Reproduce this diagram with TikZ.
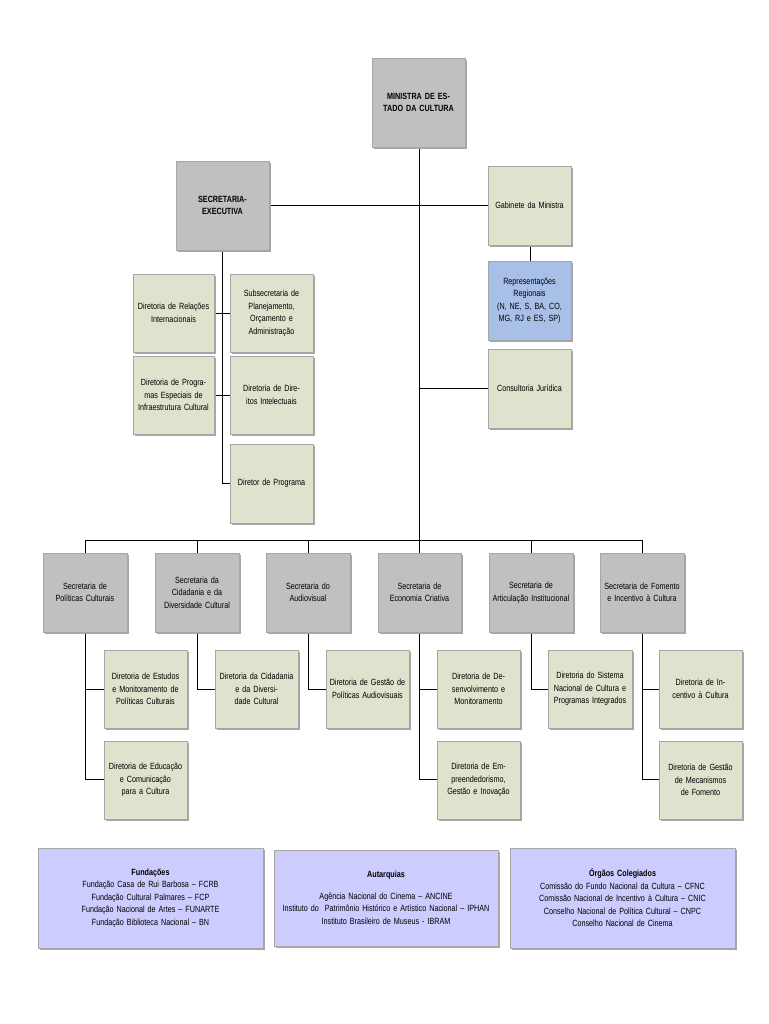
\documentclass[tikz,border=0pt]{standalone}
\usepackage{fontspec}
\setmainfont{Liberation Sans}[FakeStretch=0.8]
\usetikzlibrary{shadows}
\definecolor{gr}{HTML}{C0C0C0}
\definecolor{gn}{HTML}{DDE3CC}
\definecolor{bl}{HTML}{A8BFE8}
\definecolor{lv}{HTML}{CCCCFF}
\begin{document}
\begin{tikzpicture}[x=1pt,y=-1pt,
 box/.style={draw=gray!70,line width=0.6pt,align=center,font=\fontsize{9}{12.5}\selectfont,inner sep=1pt,drop shadow={shadow xshift=2pt,shadow yshift=-2pt,fill=gray!70,opacity=1}},
 g/.style={box,fill=gr},
 n/.style={box,fill=gn},
 ln/.style={line width=0.9pt}]
\useasboundingbox (0,0) rectangle (768,1024);
\fill[white] (0,0) rectangle (768,1024);
\newcommand\bx[7]{\node[#1,minimum width=#4-#2,minimum height=#5-#3,text width=#4-#2-6] (#6) at ({(#2+#4)/2},{(#3+#5)/2}) {#7};}
% lines
\draw[ln] (419,147) -- (419,540);
\draw[ln] (269,205) -- (488,205);
\draw[ln] (530,245) -- (530,261);
\draw[ln] (419,388) -- (488,388);
\draw[ln] (222,250) -- (222,483) -- (230,483);
\draw[ln] (214,313) -- (230,313);
\draw[ln] (214,395) -- (230,395);
\draw[ln] (85,540) -- (642,540);
\foreach \x in {85,197,308,419,531,642} \draw[ln] (\x,540) -- (\x,553);
\draw[ln] (85,632) -- (85,779) -- (104,779); \draw[ln] (85,689) -- (104,689);
\draw[ln] (197,632) -- (197,689) -- (215,689);
\draw[ln] (308,632) -- (308,689) -- (326,689);
\draw[ln] (419,632) -- (419,779) -- (437,779); \draw[ln] (419,689) -- (437,689);
\draw[ln] (531,632) -- (531,689) -- (548,689);
\draw[ln] (642,632) -- (642,779) -- (659,779); \draw[ln] (642,689) -- (659,689);
% boxes
\bx{g}{372}{58}{465}{147}{min}{\textbf{MINISTRA DE ESTADO DA CULTURA}}
\bx{g}{176}{161}{269}{250}{se}{\textbf{SECRETARIA-\\EXECUTIVA}}
\bx{n}{488}{166}{571}{245}{gab}{Gabinete da Ministra}
\bx{box,fill=bl}{488}{261}{571}{340}{rep}{Representações Regionais\\(N, NE, S, BA, CO, MG, RJ e ES, SP)}
\bx{n}{488}{349}{571}{428}{cj}{Consultoria Jurídica}
\bx{n}{133}{274}{214}{352}{dri}{Diretoria de Relações Internacionais}
\bx{n}{230}{274}{313}{352}{sub}{Subsecretaria de Planejamento, Orçamento e Administração}
\bx{n}{133}{356}{214}{434}{dpe}{Diretoria de Programas Especiais de Infraestrutura Cultural}
\bx{n}{230}{356}{313}{434}{ddi}{Diretoria de Direitos Intelectuais}
\bx{n}{230}{444}{313}{523}{dp}{Diretor de Programa}
\bx{g}{43}{553}{127}{632}{s1}{Secretaria de Políticas Culturais}
\bx{g}{155}{553}{239}{632}{s2}{Secretaria da Cidadania e da Diversidade Cultural}
\bx{g}{266}{553}{350}{632}{s3}{Secretaria do Audiovisual}
\bx{g}{378}{553}{461}{632}{s4}{Secretaria de Economia Criativa}
\bx{g}{489}{553}{573}{632}{s5}{Secretaria de Articulação Institucional}
\bx{g}{600}{553}{684}{632}{s6}{Secretaria de Fomento e Incentivo à Cultura}
\bx{n}{104}{650}{187}{728}{d11}{Diretoria de Estudos e Monitoramento de Políticas Culturais}
\bx{n}{104}{741}{187}{819}{d12}{Diretoria de Educação e Comunicação para a Cultura}
\bx{n}{215}{650}{298}{728}{d21}{Diretoria da Cidadania e da Diversidade Cultural}
\bx{n}{326}{650}{409}{728}{d31}{Diretoria de Gestão de Políticas Audiovisuais}
\bx{n}{437}{650}{520}{728}{d41}{Diretoria de Desenvolvimento e Monitoramento}
\bx{n}{437}{741}{520}{819}{d42}{Diretoria de Empreendedorismo, Gestão e Inovação}
\bx{n}{548}{650}{632}{728}{d51}{Diretoria do Sistema Nacional de Cultura e Programas Integrados}
\bx{n}{659}{650}{742}{728}{d61}{Diretoria de Incentivo à Cultura}
\bx{n}{659}{741}{742}{819}{d62}{Diretoria de Gestão de Mecanismos de Fomento}
\bx{box,fill=lv}{38}{848}{263}{948}{fu}{\textbf{Fundações}\\Fundação Casa de Rui Barbosa – FCRB\\Fundação Cultural Palmares – FCP\\Fundação Nacional de Artes – FUNARTE\\Fundação Biblioteca Nacional – BN}
\bx{box,fill=lv}{274}{850}{498}{946}{au}{\textbf{Autarquias}\\[9pt]Agência Nacional do Cinema – ANCINE\\Instituto do\ \ Patrimônio Histórico e Artístico Nacional – IPHAN\\Instituto Brasileiro de Museus - IBRAM}
\bx{box,fill=lv}{510}{848}{735}{948}{oc}{\textbf{Órgãos Colegiados}\\Comissão do Fundo Nacional da Cultura – CFNC\\Comissão Nacional de Incentivo à Cultura – CNIC\\Conselho Nacional de Política Cultural – CNPC\\Conselho Nacional de Cinema}
\end{tikzpicture}
\end{document}
